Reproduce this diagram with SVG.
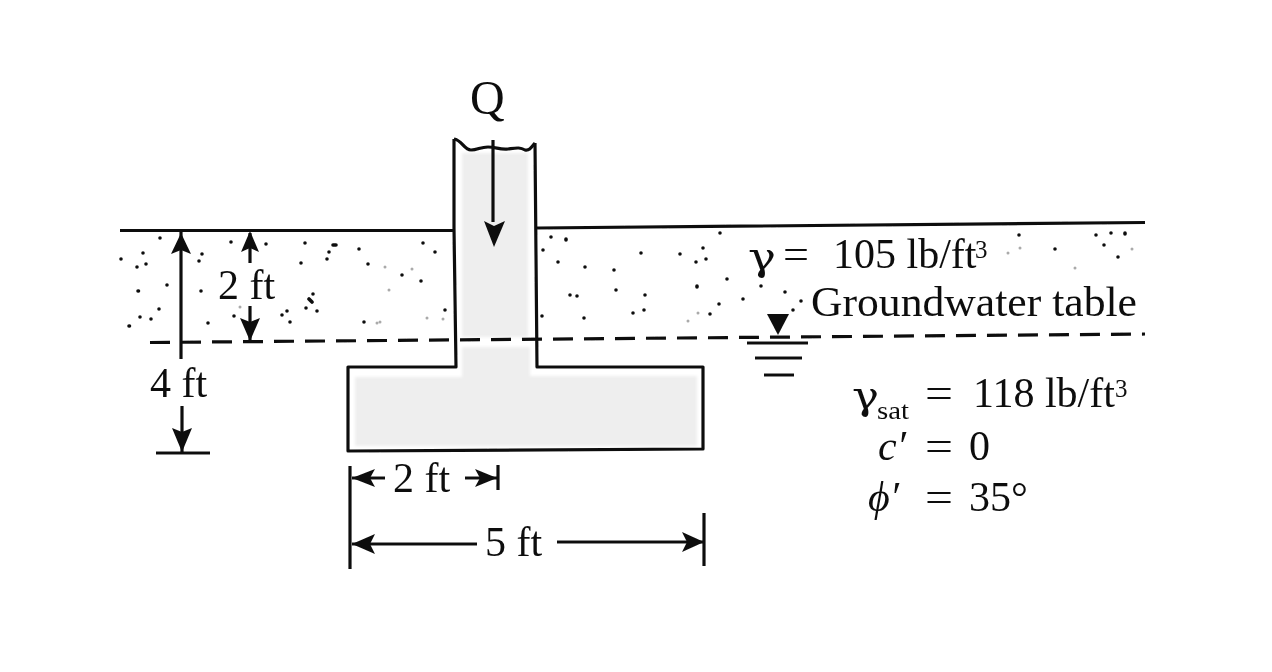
<svg xmlns="http://www.w3.org/2000/svg" width="1272" height="672" viewBox="0 0 1272 672">
<style>
.l{fill:none;stroke:#111;stroke-width:3.2}
.t{font-family:"Liberation Serif",serif;font-size:42px;fill:#111}
.i{font-style:italic}
.y{font-family:"DejaVu Serif",serif;font-size:40px;fill:#111}
.d{fill:none;stroke:#111;stroke-width:3.6;stroke-linecap:round}
.g{fill:none;stroke:#aaa;stroke-width:3;stroke-linecap:round}
.h{fill:#111}
</style>
<defs>
<filter id="b" x="-5%" y="-5%" width="110%" height="110%"><feGaussianBlur stdDeviation="1.5"/></filter>
<filter id="s" x="-2%" y="-2%" width="104%" height="104%"><feGaussianBlur stdDeviation="0.55"/></filter>
</defs>
<rect width="1272" height="672" fill="#fff"/>
<g id="concrete-fill" fill="#eeeeee" filter="url(#b)">
<path d="M462 153H528V337H462Z"/>
<path d="M462 347H530V376H697V446H355V377H462Z"/>
</g>
<g id="soil-dots" filter="url(#s)">
<path class="d" d="M160 238h0M121 259h0M143 253h0M137 267h0M146 264h0M167 285h0M138 291h.5M159 309h0M140 317h0M151 319h0M129 326h.5M199 261h0M202 254h0M201 291h0M234 316h0M208 323h0M231 242h0M266 244h0M305 243h0M301 263h0M327 259h0M329 252h0M333 245h3M359 249h0M368 264h0M402 275h0M421 281h0M423 243h0M435 252h0M313 294h0M309 299l3 3M287 311h0M282 315h0M290 322h0M306 308h0M317 311h0M364 322h0M445 310h0M551 237h0M566 239v1M543 250h0M558 262h0M585 267h0M614 270h0M641 253h0M680 254h0M703 248h0M706 259h0M696 262h0M720 233h0M727 279h0M697 286v1M761 286h0M785 292h0M801 301h0M793 310h0M743 299h0M719 304h0M710 314h0M645 295h0M616 290h0M570 295h0M577 296h0M633 313h0M644 310h0M584 318h0M542 316h0M1019 235h0M1055 249h0M1096 235h0M1111 233h0M1125 233v1M1104 245h0M1118 257h0"/>
<path class="g" d="M385 267h0M412 269h0M389 290h0M377 323h0M380 322h0M443 319h0M427 318h0M240 307h0M688 321h0M698 313h0M1008 253h0M1020 248h0M1075 268h0M1132 249h0"/>
</g>
<g id="connectors" filter="url(#s)">
<path class="l" d="M120 230.500H455M537 228L1145 222.500"/>
<path class="l" stroke-dasharray="20 11" d="M150 342.500L1145 334"/>
<path class="l" d="M181 232V359M182 406V452M156 453H210M250 233V263M250 306V341M350 466V569M704 513V566M352 478H385M465 478H498M498 465V490M352 544H477M557 542H704"/>
<path class="h" d="M181 233L191 254L181 250L171 254Z"/>
<path class="h" d="M250 231L259 252L250 248L241 252Z"/>
<path class="h" d="M250 341L240 318L250 322L260 318Z"/>
<path class="h" d="M182 452L172 428L182 432L192 428Z"/>
<path class="h" d="M352 478L375 469L370 478L375 487Z"/>
<path class="h" d="M497 478L475 469L480 478L475 487Z"/>
<path class="h" d="M352 544L375 534L370 544L375 554Z"/>
<path class="h" d="M704 542L682 532L687 542L682 552Z"/>
<path class="l" d="M493 140V222"/>
<path class="h" d="M494 247L484 221L494 226L505 221Z"/>
<path class="h" d="M767 314H789L778 335Z"/>
<path class="l" d="M747 343H808M755 358H802M764 375H794"/>
</g>
<g id="footing" filter="url(#s)">
<path class="l" stroke-linejoin="round" d="M454 139V228L456 367H348V451L703 449V367H537L535 143"/>
<path class="l" d="M454 139C462 140 464 150 471 150C478 150 480 147 488 147C496 147 500 150 508 149C516 148 520 147 525 150C529 151 531 148 535 143"/>
</g>
<g id="labels" filter="url(#s)">
<text class="t" x="470" y="114" style="font-size:48px">Q</text>
<text class="t" x="218" y="299">2 ft</text>
<text class="t" x="150" y="397">4 ft</text>
<text class="t" x="393" y="492">2 ft</text>
<text class="t" x="485" y="556">5 ft</text>
<text class="y" x="748" y="270" textLength="28" lengthAdjust="spacingAndGlyphs">γ</text>
<text class="t" x="783" y="268" textLength="26" lengthAdjust="spacingAndGlyphs">=</text>
<text class="t" x="833" y="268">105 lb/ft</text>
<text class="t" x="975" y="258" style="font-size:25px">3</text>
<text class="t" x="811" y="316" textLength="326" lengthAdjust="spacingAndGlyphs">Groundwater table</text>
<text class="y" x="852" y="409" textLength="27" lengthAdjust="spacingAndGlyphs">γ</text>
<text class="t" x="877" y="419" style="font-size:25px" textLength="32" lengthAdjust="spacingAndGlyphs">sat</text>
<text class="t" x="925" y="407" textLength="28" lengthAdjust="spacingAndGlyphs">=</text>
<text class="t" x="973" y="407">118 lb/ft</text>
<text class="t" x="1115" y="397" style="font-size:25px">3</text>
<text class="t i" x="878" y="460">c′</text>
<text class="t" x="925" y="460" textLength="28" lengthAdjust="spacingAndGlyphs">=</text>
<text class="t" x="969" y="460">0</text>
<text class="t i" x="868" y="511">ϕ′</text>
<text class="t" x="925" y="511" textLength="28" lengthAdjust="spacingAndGlyphs">=</text>
<text class="t" x="969" y="511">35°</text>
</g>
</svg>
